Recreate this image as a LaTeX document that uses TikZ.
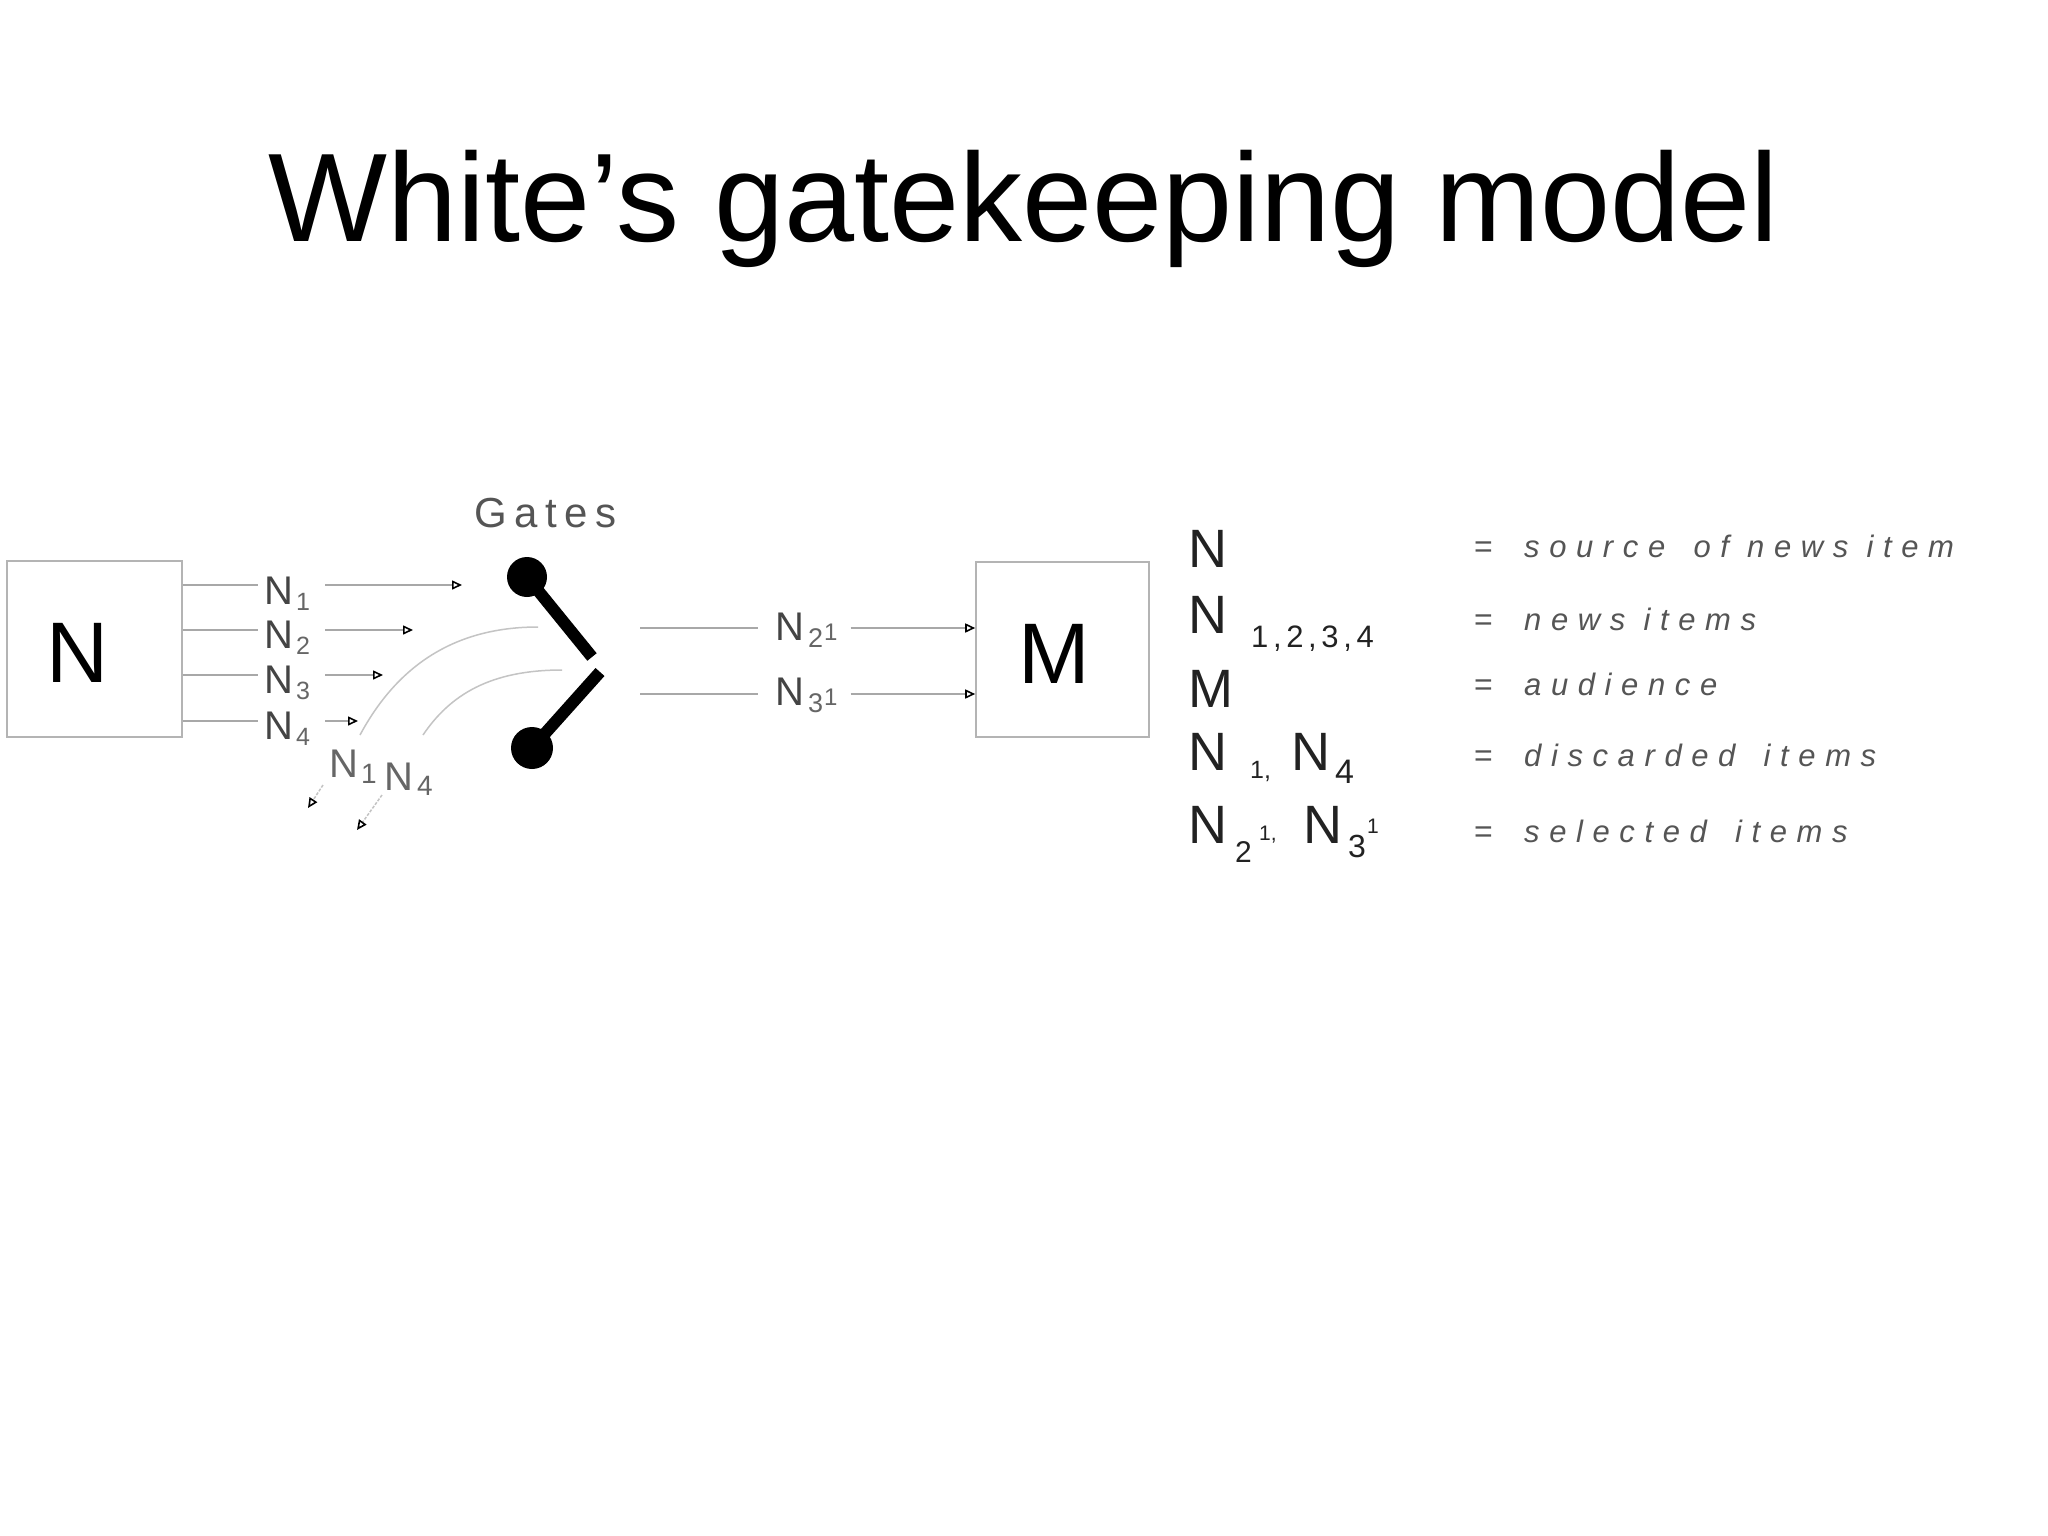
\documentclass[tikz,border=0pt]{standalone}
\usepackage{fontspec}
\setmainfont{Liberation Sans}
\newfontfamily\legfont[LetterSpace=31]{Liberation Sans}
\newfontfamily\digfont[LetterSpace=15]{Liberation Sans}
\newfontfamily\gatefont[LetterSpace=18]{Liberation Sans}
\usetikzlibrary{arrows.meta}
\definecolor{boxgray}{HTML}{B4B4B4}
\definecolor{linegray}{HTML}{A8A8A8}
\definecolor{curvegray}{HTML}{C4C4C4}
\definecolor{labgray}{HTML}{444444}
\definecolor{subgray}{HTML}{666666}
\definecolor{dislab}{HTML}{666666}
\definecolor{txtgray}{HTML}{555555}
\definecolor{symgray}{HTML}{222222}
\newcommand\lsub[1]{\hspace{3pt}\raisebox{-6pt}{\fontsize{25}{25}\selectfont\color{subgray}#1}}
\newcommand\fs[2]{{\fontsize{#1}{#1}\selectfont #2}}
\tikzset{
  box/.style={draw=boxgray, line width=1.6pt, inner sep=0, minimum width=175pt, minimum height=176pt},
  bigl/.style={inner sep=0, text=black, font=\fontsize{86}{86}\selectfont},
  lab/.style={inner sep=0, text=labgray, font=\fontsize{40}{40}\selectfont},
  dlab/.style={inner sep=0, text=dislab, font=\fontsize{40}{40}\selectfont},
  gline/.style={draw=linegray, line width=1.5pt},
  garrow/.style={draw=linegray, line width=1.5pt, -{Triangle[open, length=10pt, width=9pt, line width=1.6pt, color=black]}},
  gcurve/.style={draw=curvegray, line width=1.5pt},
  darrow/.style={draw=curvegray, line width=1.5pt, dash pattern=on 3pt off 1.5pt, -{Triangle[open, length=10pt, width=9pt, line width=1.6pt, color=black]}},
  bar/.style={line width=12pt, draw=black},
  sym/.style={inner sep=0, text=symgray, font=\fontsize{54}{54}\selectfont, anchor=base west},
  eqs/.style={inner sep=0, text=txtgray, font=\fontsize{32}{32}\selectfont, anchor=base west},
  legtxt/.style={inner sep=0, text=txtgray, font=\legfont\itshape\fontsize{31}{31}\selectfont, anchor=base west}
}
\begin{document}
\begin{tikzpicture}[x=1pt,y=-1pt]
\fill[white] (0,0) rectangle (2048,1536);
\useasboundingbox (0,0) rectangle (2048,1536);

% title
\node[anchor=base, inner sep=0, font=\fontsize{126}{126}\selectfont] (title) at (1024,241) {White’s gatekeeping model};

% boxes
\node[box] (Nbox) at (94.5,649) {};
\node[box, minimum width=173pt, minimum height=175pt] (Mbox) at (1062.5,649.5) {};
\node[bigl, anchor=base] (Ntxt) at (77.5,682) {N};
\node[bigl, anchor=base] (Mtxt) at (1054.5,683) {M};

% news item labels
\node[lab, anchor=base west] (n1) at (264,604) {N\lsub{1}};
\node[lab, anchor=base west] (n2) at (264,648) {N\lsub{2}};
\node[lab, anchor=base west] (n3) at (264,693) {N\lsub{3}};
\node[lab, anchor=base west] (n4) at (264,739) {N\lsub{4}};

\coordinate (t1) at (462,585);
\coordinate (t2) at (413,630);
\coordinate (t3) at (383,675);
\coordinate (t4) at (358,721);
\foreach \i in {1,2,3,4}{
  \draw[gline, shorten >=6pt] (Nbox.east |- t\i) -- (n\i.west |- t\i);
  \draw[garrow, shorten <=15pt] (n\i.east |- t\i) -- (t\i);
}

% gates
\node[inner sep=0, anchor=base west, text=txtgray, font=\gatefont\fontsize{42}{42}\selectfont] (gates) at (474,527) {Gates};
\coordinate (ub) at (527,577);
\coordinate (ue) at (592,657);
\coordinate (lb) at (532,748);
\coordinate (le) at (600,672);
\fill[black] (ub) circle (20);
\draw[bar] (ub) -- (ue);
\fill[black] (lb) circle (21);
\draw[bar] (le) -- (lb);

% deflected curves
\coordinate (c1a) at (360,735);
\coordinate (c1b) at (538,627);
\coordinate (c2a) at (423,735);
\coordinate (c2b) at (562,670);
\draw[gcurve] (c1a) .. controls (395,670) and (450,627) .. (c1b);
\draw[gcurve] (c2a) .. controls (450,695) and (490,670) .. (c2b);

% discarded items
\node[dlab, anchor=base west] (d1) at (329,777) {N\hspace{3pt}\raisebox{-6pt}{\fs{28}{1}}};
\node[dlab, anchor=base west] (d4) at (384,790) {N\hspace{4pt}\raisebox{-5pt}{\fs{28}{4}}};
\coordinate (da1) at (323,785);
\coordinate (db1) at (308,808);
\coordinate (da4) at (382,795);
\coordinate (db4) at (357,830);
\draw[darrow] (da1) -- (db1);
\draw[darrow] (da4) -- (db4);

% selected items
\node[lab, anchor=base west] (s2) at (775,640) {N\hspace{4pt}\raisebox{-7pt}{\fs{27}{\color{subgray}2}}\hspace{1pt}\fs{24}{\color{subgray}1}};
\node[lab, anchor=base west] (s3) at (775,705) {N\hspace{4pt}\raisebox{-7pt}{\fs{27}{\color{subgray}3}}\hspace{1pt}\fs{24}{\color{subgray}1}};
\coordinate (g2) at (640,628);
\coordinate (g3) at (640,694);
\draw[gline, shorten >=17pt] (g2) -- (s2.west |- g2);
\draw[gline, shorten >=17pt] (g3) -- (s3.west |- g3);
\draw[garrow, shorten <=13pt] (s2.east |- g2) -- (Mbox.west |- g2);
\draw[garrow, shorten <=13pt] (s3.east |- g3) -- (Mbox.west |- g3);

% legend symbols
\node[sym] (k1) at (1188,567) {N};
\node[sym] (k2) at (1188,633) {N};
\node[sym, font=\digfont\fontsize{31}{31}\selectfont] (k2s) at (1251,647) {1,2,3,4};
\node[sym] (k3) at (1188,707) {M};
\node[sym] (k4) at (1188,770) {N};
\node[sym, font=\fontsize{25}{25}\selectfont] (k4a) at (1250,778) {1,};
\node[sym] (k4b) at (1291,770) {N};
\node[sym, font=\fontsize{34}{34}\selectfont] (k4c) at (1335,783) {4};
\node[sym] (k5) at (1188,843) {N};
\node[sym, font=\fontsize{30}{30}\selectfont] (k5a) at (1235,862) {2};
\node[sym, font=\fontsize{21}{21}\selectfont] (k5b) at (1259,840) {1,};
\node[sym] (k5c) at (1303,843) {N};
\node[sym, font=\fontsize{32}{32}\selectfont] (k5d) at (1348,857) {3};
\node[sym, font=\fontsize{21}{21}\selectfont] (k5e) at (1367,833) {1};

% legend text
\node[eqs] (e1) at (1474,557) {=};
\node[eqs] (e2) at (1474,630) {=};
\node[eqs] (e3) at (1474,695) {=};
\node[eqs] (e4) at (1474,766) {=};
\node[eqs] (e5) at (1474,842) {=};
\node[legtxt] (x1) at (1524,557) {source\hspace{10pt} of news item};
\node[legtxt] (x2) at (1524,630) {news items};
\node[legtxt] (x3) at (1524,695) {audience};
\node[legtxt] (x4) at (1524,766) {discarded\hspace{10pt} items};
\node[legtxt] (x5) at (1524,842) {selected\hspace{10pt} items};
\end{tikzpicture}
\end{document}
